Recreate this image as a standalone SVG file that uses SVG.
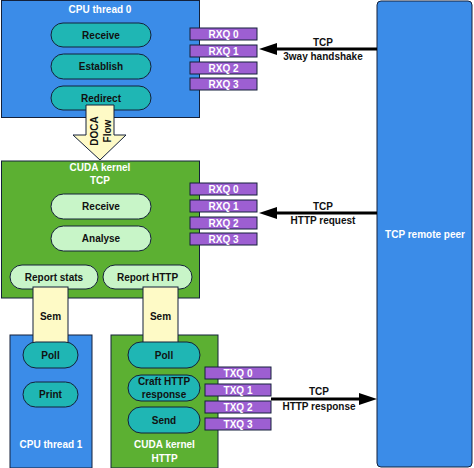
<svg xmlns="http://www.w3.org/2000/svg" width="474" height="468" viewBox="0 0 474 468">
<defs>
<style>
text{font-family:"Liberation Sans",Arial,sans-serif;font-weight:bold;font-size:10px;text-anchor:middle;dominant-baseline:central}
.blue{fill:#3b8ce8;stroke:#14213a;stroke-width:1}
.green{fill:#5cb032;stroke:#14213a;stroke-width:1}
.teal{fill:#1fb6b4;stroke:#14213a;stroke-width:1}
.lg{fill:#c8f5c8;stroke:#14213a;stroke-width:1}
.q{fill:#9d5fd2;stroke:#14213a;stroke-width:1}
.sem{fill:#fefac6;stroke:#14213a;stroke-width:1}
.w{fill:#ffffff}
.k{fill:#111111}
.line{stroke:#000;stroke-width:3;fill:none}
</style>
</defs>
<rect width="474" height="468" fill="#ffffff"/>

<g id="peer">
<rect class="blue" x="377" y="1" width="95" height="466" rx="4"/>
<text class="w" x="425" y="234">TCP remote peer</text>
</g>

<g id="cpu0">
<rect class="blue" x="1.5" y="0.5" width="198" height="117"/>
<text class="w" x="100" y="9">CPU thread 0</text>
<g id="cpu0-receive"><rect class="teal" x="51" y="23" width="100" height="24" rx="12"/><text class="k" x="101" y="35">Receive</text></g>
<g id="cpu0-establish"><rect class="teal" x="51" y="54" width="100" height="25" rx="12.5"/><text class="k" x="101" y="66.5">Establish</text></g>
<g id="cpu0-redirect"><rect class="teal" x="51" y="86" width="100" height="24" rx="12"/><text class="k" x="101" y="98">Redirect</text></g>
</g>

<g id="rxq-a">
<rect class="q" x="190" y="28" width="67" height="12"/><text class="w" x="223.5" y="34">RXQ 0</text>
<rect class="q" x="190" y="45" width="67" height="12"/><text class="w" x="223.5" y="51">RXQ 1</text>
<rect class="q" x="190" y="62" width="67" height="12"/><text class="w" x="223.5" y="68">RXQ 2</text>
<rect class="q" x="190" y="78" width="67" height="12"/><text class="w" x="223.5" y="84">RXQ 3</text>
</g>

<g id="cudatcp">
<rect class="green" x="1.5" y="161" width="198" height="137"/>
<text class="w" x="100" y="167">CUDA kernel</text>
<text class="w" x="100" y="180">TCP</text>
<g id="tcp-receive"><rect class="lg" x="51" y="194" width="100" height="25" rx="12.5"/><text class="k" x="101" y="206.5">Receive</text></g>
<g id="tcp-analyse"><rect class="lg" x="51" y="226" width="100" height="25" rx="12.5"/><text class="k" x="101" y="238.5">Analyse</text></g>
<g id="tcp-stats"><rect class="lg" x="10" y="265" width="88" height="24" rx="12"/><text class="k" x="54" y="277">Report stats</text></g>
<g id="tcp-http"><rect class="lg" x="103" y="265" width="89" height="24" rx="12"/><text class="k" x="147.5" y="277">Report HTTP</text></g>
</g>

<g id="rxq-b">
<rect class="q" x="190" y="183" width="67" height="12"/><text class="w" x="223.5" y="189">RXQ 0</text>
<rect class="q" x="190" y="200" width="67" height="12"/><text class="w" x="223.5" y="206">RXQ 1</text>
<rect class="q" x="190" y="217" width="67" height="12"/><text class="w" x="223.5" y="223">RXQ 2</text>
<rect class="q" x="190" y="233" width="67" height="12"/><text class="w" x="223.5" y="239">RXQ 3</text>
</g>

<g id="cpu1">
<rect class="blue" x="10" y="335" width="82" height="133"/>
<text class="w" x="51" y="444">CPU thread 1</text>
</g>

<g id="cudahttp">
<rect class="green" x="111" y="335" width="107" height="133"/>
<text class="w" x="164.5" y="444">CUDA kernel</text>
<text class="w" x="164.5" y="458">HTTP</text>
</g>

<g id="sem1"><rect class="sem" x="33" y="287" width="35" height="57"/><text class="k" x="50.5" y="316">Sem</text></g>
<g id="sem2"><rect class="sem" x="143" y="287" width="35" height="57"/><text class="k" x="160.5" y="316">Sem</text></g>

<g id="cpu1-poll"><rect class="teal" x="23" y="342" width="55" height="26" rx="13"/><text class="k" x="50.5" y="355">Poll</text></g>
<g id="cpu1-print"><rect class="teal" x="23" y="382" width="55" height="25" rx="12.5"/><text class="k" x="50.5" y="394.5">Print</text></g>

<g id="http-poll"><rect class="teal" x="128" y="342" width="72" height="26" rx="13"/><text class="k" x="164" y="355">Poll</text></g>
<g id="http-craft"><rect class="teal" x="128" y="375" width="72" height="26" rx="13"/><text class="k" x="164" y="381.5">Craft HTTP</text><text class="k" x="164" y="394">response</text></g>
<g id="http-send"><rect class="teal" x="128" y="407" width="72" height="26" rx="13"/><text class="k" x="164" y="420">Send</text></g>

<g id="txq">
<rect class="q" x="205" y="367" width="66" height="12"/><text class="w" x="238" y="373">TXQ 0</text>
<rect class="q" x="205" y="384" width="66" height="12"/><text class="w" x="238" y="390">TXQ 1</text>
<rect class="q" x="205" y="401" width="66" height="12"/><text class="w" x="238" y="407">TXQ 2</text>
<rect class="q" x="205" y="418" width="66" height="12"/><text class="w" x="238" y="424">TXQ 3</text>
</g>

<g id="connectors">
<g id="doca">
<polygon class="sem" points="86,105 114,105 114,135 126,135 100,160 73,135 86,135"/>
<text class="k" transform="translate(94,131) rotate(-90)">DOCA</text>
<text class="k" transform="translate(107,131) rotate(-90)">Flow</text>
</g>
<g id="c-handshake">
<line class="line" x1="377" y1="49" x2="272" y2="49"/>
<polygon points="259,49 277,43 277,55" fill="#000"/>
<text class="k" x="323" y="42">TCP</text>
<text class="k" x="323" y="56">3way handshake</text>
</g>
<g id="c-request">
<line class="line" x1="377" y1="213" x2="272" y2="213"/>
<polygon points="259,213 277,207 277,219" fill="#000"/>
<text class="k" x="323" y="206">TCP</text>
<text class="k" x="323" y="220">HTTP request</text>
</g>
<g id="c-response">
<line class="line" x1="271" y1="399" x2="362" y2="399"/>
<polygon points="377,399 359,393 359,405" fill="#000"/>
<text class="k" x="319" y="391">TCP</text>
<text class="k" x="319" y="406">HTTP response</text>
</g>
</g>
</svg>
